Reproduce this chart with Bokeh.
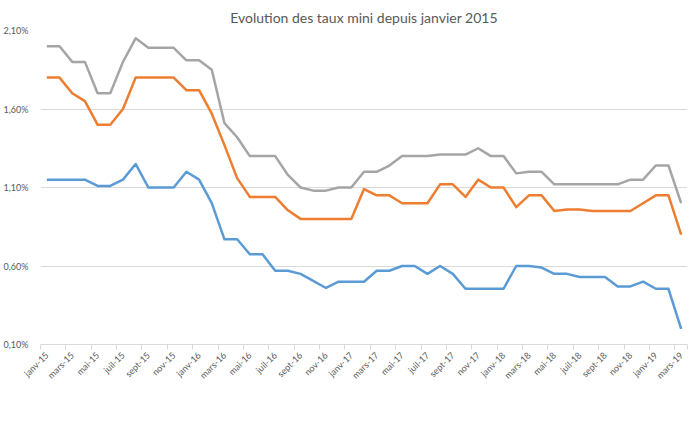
from bokeh.plotting import figure
from bokeh.models import FixedTicker, Legend, LegendItem, Range1d
from bokeh.embed import file_html
from bokeh.resources import INLINE
from math import pi

month_labels = ["janv-15", "mars-15", "mai-15", "juil-15", "sept-15", "nov-15",
                "janv-16", "mars-16", "mai-16", "juil-16", "sept-16", "nov-16",
                "janv-17", "mars-17", "mai-17", "juil-17", "sept-17", "nov-17",
                "janv-18", "mars-18", "mai-18", "juil-18", "sept-18", "nov-18",
                "janv-19", "mars-19"]

taux_7 = [1.15, 1.15, 1.15, 1.15, 1.11, 1.11, 1.15, 1.25, 1.10, 1.10, 1.10, 1.20, 1.15,
          1.00, 0.77, 0.77, 0.675, 0.675, 0.57, 0.57, 0.55, 0.505, 0.46, 0.50, 0.50,
          0.50, 0.57, 0.57, 0.60, 0.60, 0.55, 0.60, 0.55, 0.455, 0.455, 0.455, 0.455,
          0.60, 0.60, 0.59, 0.55, 0.55, 0.53, 0.53, 0.53, 0.47, 0.47, 0.50, 0.455,
          0.455, 0.20]
taux_15 = [1.80, 1.80, 1.70, 1.65, 1.50, 1.50, 1.60, 1.80, 1.80, 1.80, 1.80, 1.72, 1.72,
           1.57, 1.37, 1.16, 1.04, 1.04, 1.04, 0.955, 0.90, 0.90, 0.90, 0.90, 0.90,
           1.09, 1.05, 1.05, 1.00, 1.00, 1.00, 1.12, 1.12, 1.04, 1.15, 1.10, 1.10,
           0.975, 1.05, 1.05, 0.95, 0.96, 0.96, 0.95, 0.95, 0.95, 0.95, 1.00, 1.05,
           1.05, 0.80]
taux_20 = [2.00, 2.00, 1.90, 1.90, 1.70, 1.70, 1.90, 2.05, 1.99, 1.99, 1.99, 1.91, 1.91,
           1.85, 1.51, 1.42, 1.30, 1.30, 1.30, 1.18, 1.10, 1.08, 1.08, 1.10, 1.10,
           1.20, 1.20, 1.24, 1.30, 1.30, 1.30, 1.31, 1.31, 1.31, 1.35, 1.30, 1.30,
           1.19, 1.20, 1.20, 1.12, 1.12, 1.12, 1.12, 1.12, 1.12, 1.15, 1.15, 1.24,
           1.24, 1.00]
y_ticks = [0.10, 0.60, 1.10, 1.60, 2.10]
y_tick_labels = ["0,10%", "0,60%", "1,10%", "1,60%", "2,10%"]

x = list(range(len(taux_7)))
FONT = "Lato"
TXT = "#595959"
GRID = "#D9D9D9"

p = figure(frame_width=647, frame_height=314, output_backend="svg", toolbar_location=None,
           x_range=Range1d(-0.5, len(x) - 0.5), y_range=Range1d(0.10, 2.10),
           min_border_left=33, min_border_right=4, min_border_top=30, min_border_bottom=0)
p.title.text = "Evolution des taux mini depuis janvier 2015"
p.title.align = "center"
p.title.text_font = FONT
p.title.text_font_size = "14px"
p.title.text_font_style = "normal"
p.title.text_color = TXT
p.outline_line_color = None

r7 = p.line(x, taux_7, line_color="#5B9BD5", line_width=2.5, line_join="round")
r15 = p.line(x, taux_15, line_color="#ED7D31", line_width=2.5, line_join="round")
r20 = p.line(x, taux_20, line_color="#A5A5A5", line_width=2.5, line_join="round")

# y axis
p.yaxis.ticker = FixedTicker(ticks=y_ticks)
p.yaxis.major_label_overrides = {t: l for t, l in zip(y_ticks, y_tick_labels)}
p.yaxis.axis_line_color = None
p.yaxis.major_tick_line_color = None
p.yaxis.minor_tick_line_color = None
p.yaxis.major_label_text_font = FONT
p.yaxis.major_label_text_font_size = "9px"
p.yaxis.major_label_text_color = TXT
p.yaxis.major_label_standoff = 6
p.ygrid.ticker = FixedTicker(ticks=y_ticks)
p.ygrid.grid_line_color = GRID
p.xgrid.grid_line_color = None

# x axis
label_pos = list(range(0, len(x), 2))
p.xaxis.ticker = FixedTicker(ticks=label_pos, minor_ticks=[v - 0.5 for v in label_pos] + [len(x) - 0.5])
p.xaxis.major_label_overrides = {t: l for t, l in zip(label_pos, month_labels)}
p.xaxis.major_label_orientation = pi / 4
p.xaxis.axis_line_color = GRID
p.xaxis.major_tick_line_color = None
p.xaxis.minor_tick_line_color = GRID
p.xaxis.minor_tick_in = 0
p.xaxis.minor_tick_out = 5
p.xaxis.major_tick_out = 0
p.xaxis.major_label_text_font = FONT
p.xaxis.major_label_text_font_size = "9px"
p.xaxis.major_label_text_color = TXT
p.xaxis.major_label_standoff = 4
p.xaxis.axis_label = None

legend = Legend(items=[LegendItem(label="7 ans", renderers=[r7]),
                       LegendItem(label="15 ans", renderers=[r15]),
                       LegendItem(label="20 ans", renderers=[r20])],
                orientation="horizontal", location="top_center",
                border_line_color=None, background_fill_alpha=0,
                label_text_font=FONT, label_text_font_size="9.5px", label_text_color=TXT,
                glyph_width=22, glyph_height=10, spacing=10, label_standoff=3,
                label_height=12, padding=2, margin=2)
p.add_layout(legend, "below")

open("out.html", "w").write(file_html(p, INLINE))
